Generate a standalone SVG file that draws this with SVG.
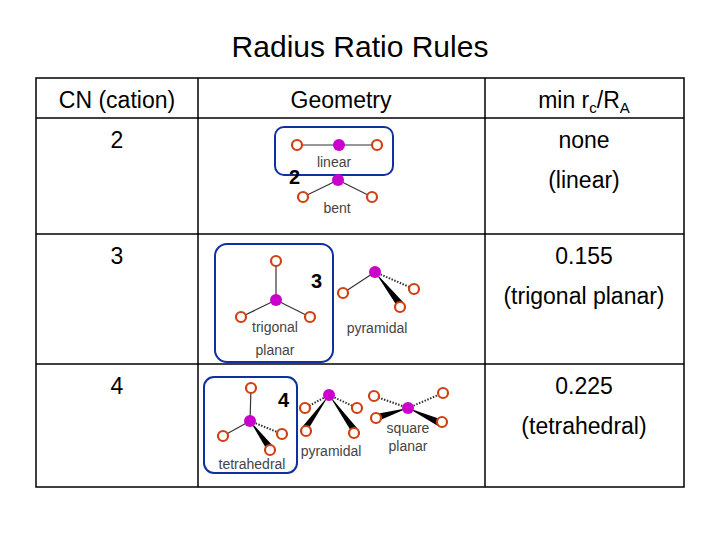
<svg xmlns="http://www.w3.org/2000/svg" width="720" height="540" viewBox="0 0 720 540">
<defs><style>
.t{font-family:"Liberation Sans",Arial,sans-serif;fill:#000}
.h{font-size:23px;text-anchor:middle}
.s{font-size:14px;fill:#444;text-anchor:middle;font-family:"Liberation Sans",Arial,sans-serif}
.n{font-size:20px;font-weight:bold;font-family:"Liberation Sans",Arial,sans-serif}
.o{fill:#fff;stroke:#d04010;stroke-width:2.2}
.m{fill:#cc00cc}
.b{stroke:#333;stroke-width:1.2}
.d{stroke:#333;stroke-width:2;stroke-dasharray:1.5,1.5}
.w{fill:#000}
.bx{fill:none;stroke:#1030a0;stroke-width:2}
.g{stroke:#000;stroke-width:1.5;fill:none}
</style></defs>
<rect width="720" height="540" fill="#fff"/>
<text class="t" x="360" y="57" font-size="30" text-anchor="middle">Radius Ratio Rules</text>
<g id="table">
<rect class="g" x="36" y="78" width="648" height="409"/>
<line class="g" x1="36" y1="118" x2="684" y2="118"/>
<line class="g" x1="36" y1="234" x2="684" y2="234"/>
<line class="g" x1="36" y1="364" x2="684" y2="364"/>
<line class="g" x1="198" y1="78" x2="198" y2="487"/>
<line class="g" x1="485" y1="78" x2="485" y2="487"/>
<text class="t h" x="117" y="108">CN (cation)</text>
<text class="t h" x="341" y="108">Geometry</text>
<text class="t h" x="584" y="108">min r<tspan font-size="15" dy="5">c</tspan><tspan dy="-5">/R</tspan><tspan font-size="15" dy="5">A</tspan></text>
<text class="t h" x="117" y="148">2</text>
<text class="t h" x="584" y="148">none</text>
<text class="t h" x="584" y="188">(linear)</text>
<text class="t h" x="117" y="264">3</text>
<text class="t h" x="584" y="264">0.155</text>
<text class="t h" x="584" y="304">(trigonal planar)</text>
<text class="t h" x="117" y="394">4</text>
<text class="t h" x="584" y="394">0.225</text>
<text class="t h" x="584" y="434">(tetrahedral)</text>
</g>
<g id="cn2">
<rect class="bx" x="275" y="127" width="118" height="48" rx="9"/>
<line class="b" x1="297" y1="145" x2="377" y2="145"/>
<circle class="o" cx="297" cy="145" r="5"/><circle class="m" cx="339" cy="145" r="6"/><circle class="o" cx="377" cy="145" r="5"/>
<text class="s" x="334" y="167">linear</text>
<text class="n" x="289" y="184">2</text>
<line class="b" x1="303" y1="197" x2="338" y2="180"/><line class="b" x1="372" y1="197" x2="338" y2="180"/>
<circle class="m" cx="338" cy="180" r="6"/><circle class="o" cx="303" cy="197" r="5"/><circle class="o" cx="372" cy="197" r="5"/>
<text class="s" x="337" y="213">bent</text>
</g>
<g id="cn3">
<rect class="bx" x="215" y="244" width="118" height="118" rx="12"/>
<line class="b" x1="276" y1="261" x2="276" y2="300"/><line class="b" x1="241" y1="317" x2="276" y2="300"/><line class="b" x1="310" y1="317" x2="276" y2="300"/>
<circle class="o" cx="276" cy="261" r="5"/><circle class="m" cx="276" cy="300" r="6"/><circle class="o" cx="241" cy="317" r="5"/><circle class="o" cx="310" cy="317" r="5"/>
<text class="s" x="275" y="332">trigonal</text><text class="s" x="275" y="355">planar</text>
<text class="n" x="311" y="288">3</text>
<line class="b" x1="343" y1="293" x2="375" y2="272"/><line class="d" x1="375" y1="272" x2="414" y2="289"/>
<polygon class="w" points="375,272 403,302 397,306"/>
<circle class="m" cx="375" cy="272" r="6"/><circle class="o" cx="343" cy="293" r="5"/><circle class="o" cx="414" cy="289" r="5"/><circle class="o" cx="400" cy="307" r="5"/>
<text class="s" x="377" y="333">pyramidal</text>
</g>
<g id="cn4">
<rect class="bx" x="204" y="377" width="93" height="96" rx="10"/>
<line class="b" x1="251" y1="388" x2="250" y2="421"/><line class="b" x1="223" y1="436" x2="250" y2="421"/><line class="d" x1="250" y1="421" x2="282" y2="434"/>
<polygon class="w" points="250,421 273,446 267,450"/>
<circle class="o" cx="251" cy="388" r="5"/><circle class="m" cx="250" cy="421" r="6"/><circle class="o" cx="223" cy="436" r="5"/><circle class="o" cx="282" cy="434" r="5"/><circle class="o" cx="270" cy="450" r="5"/>
<text class="n" x="278" y="407">4</text>
<text class="s" x="252" y="469">tetrahedral</text>
<line class="d" x1="329" y1="395" x2="305" y2="408"/><line class="d" x1="329" y1="395" x2="357" y2="408"/>
<polygon class="w" points="329,395 309,428 303,426"/><polygon class="w" points="329,395 357,428 351,431"/>
<circle class="m" cx="329" cy="395" r="6"/><circle class="o" cx="305" cy="408" r="5"/><circle class="o" cx="357" cy="408" r="5"/><circle class="o" cx="306" cy="431" r="5"/><circle class="o" cx="354" cy="433" r="5"/>
<text class="s" x="331" y="456">pyramidal</text>
<line class="d" x1="408" y1="408" x2="374" y2="396"/><line class="d" x1="408" y1="408" x2="443" y2="393"/>
<polygon class="w" points="408,408 378,421 376,414"/><polygon class="w" points="408,408 440,419 438,426"/>
<circle class="m" cx="408" cy="408" r="6"/><circle class="o" cx="374" cy="396" r="5"/><circle class="o" cx="443" cy="393" r="5"/><circle class="o" cx="376" cy="418" r="5"/><circle class="o" cx="442" cy="422" r="5"/>
<text class="s" x="408" y="433">square</text><text class="s" x="408" y="451">planar</text>
</g>
</svg>
